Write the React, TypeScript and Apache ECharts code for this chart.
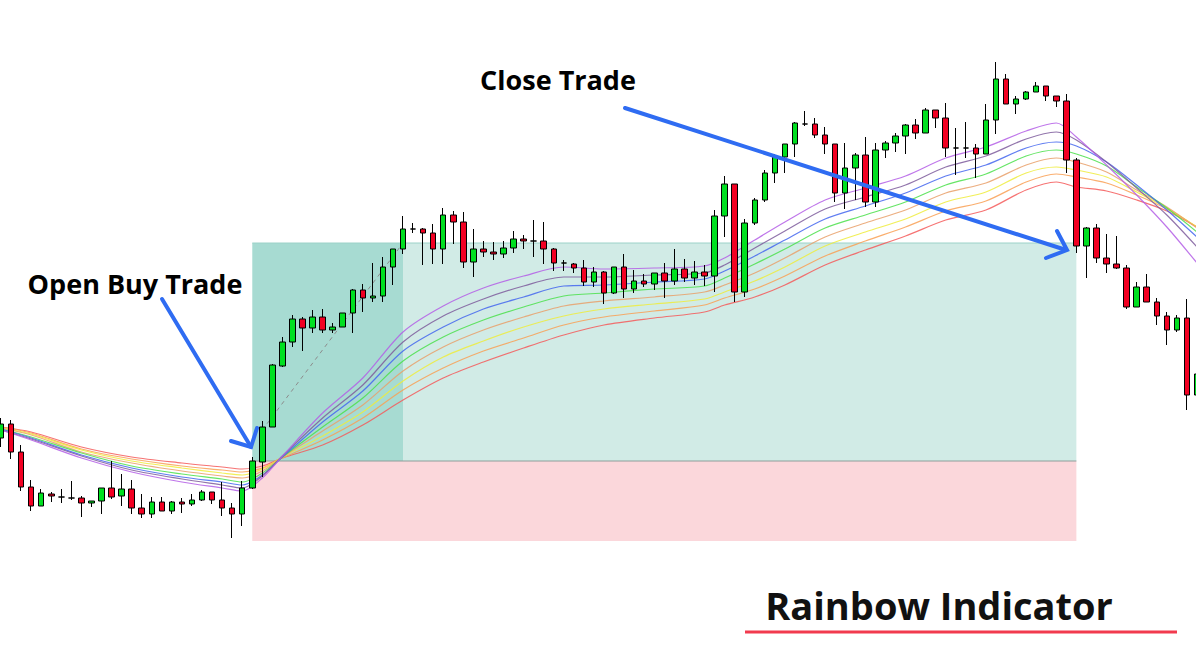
import React, { useEffect, useRef } from "react";
import * as echarts from "echarts";

// ---- candle data (price units) ----
const candleOpen = [
  233, 247, 219, 184, 165, 177, 174, 173, 173, 168,
  170, 183, 175, 182, 163, 157, 169, 160, 169, 167,
  171, 179, 171, 163, 157, 183, 209, 244, 305, 329,
  352, 343, 354, 341, 344, 358, 381, 373, 375, 404,
  422, 442, 442, 438, 422, 456, 449, 409, 422, 419,
  417, 423, 432, 430, 430, 422, 408, 407, 403, 389,
  399, 378, 404, 382, 390, 387, 398, 390, 402, 393,
  399, 395, 455, 487, 379, 448, 471, 498, 514, 527,
  547, 547, 536, 527, 478, 503, 516, 469, 521, 528,
  535, 546, 538, 561, 553, 523, 523, 523, 517, 551,
  592, 567, 572, 579, 585, 575, 570, 511, 425, 443,
  413, 407, 403, 364, 384, 369, 355, 341, 353, 276,
];
const candleClose = [
  247, 219, 184, 165, 178, 175, 174, 173, 168, 170,
  183, 174, 182, 163, 157, 169, 160, 169, 167, 171,
  179, 171, 163, 157, 183, 210, 244, 306, 329, 352,
  343, 354, 341, 344, 358, 381, 373, 375, 404, 422,
  442, 442, 438, 422, 456, 449, 409, 422, 419, 417,
  423, 432, 430, 430, 422, 408, 408, 403, 389, 399,
  378, 404, 382, 390, 387, 398, 390, 402, 393, 399,
  395, 455, 487, 379, 448, 471, 498, 514, 527, 548,
  547, 536, 527, 478, 503, 516, 469, 521, 528, 535,
  546, 538, 561, 553, 523, 523, 523, 517, 551, 592,
  567, 572, 579, 585, 575, 570, 511, 425, 443, 413,
  407, 403, 364, 384, 369, 355, 341, 353, 276, 297,
];
const candleLow = [
  224, 212, 180, 160, 165, 169, 168, 171, 154, 164,
  157, 172, 165, 157, 153, 153, 160, 157, 158, 165,
  170, 167, 155, 133, 145, 182, 194, 244, 304, 324,
  320, 338, 338, 338, 344, 338, 359, 369, 369, 386,
  417, 438, 406, 407, 407, 427, 403, 394, 414, 411,
  413, 418, 422, 414, 407, 400, 400, 398, 385, 384,
  367, 377, 373, 378, 384, 381, 373, 386, 389, 386,
  385, 379, 434, 369, 374, 446, 469, 488, 498, 514,
  545, 533, 517, 469, 462, 471, 464, 464, 513, 519,
  517, 532, 538, 543, 514, 496, 513, 493, 517, 537,
  567, 557, 571, 579, 570, 564, 498, 418, 393, 408,
  398, 402, 362, 364, 369, 346, 326, 339, 261, 270,
];
const candleHigh = [
  253, 251, 226, 191, 182, 179, 182, 190, 175, 170,
  183, 210, 197, 191, 177, 174, 174, 170, 173, 177,
  181, 179, 189, 168, 190, 214, 250, 307, 334, 356,
  354, 361, 362, 348, 358, 382, 387, 408, 414, 422,
  455, 448, 443, 447, 463, 460, 459, 442, 430, 429,
  430, 440, 436, 451, 449, 423, 411, 408, 411, 404,
  400, 404, 417, 401, 397, 398, 408, 422, 412, 410,
  406, 461, 495, 487, 452, 473, 501, 517, 527, 549,
  560, 553, 544, 527, 528, 518, 534, 528, 530, 538,
  547, 552, 563, 561, 568, 543, 549, 527, 567, 609,
  597, 575, 580, 589, 585, 575, 577, 513, 444, 447,
  437, 435, 406, 389, 397, 373, 359, 356, 372, 300,
];
const categories = candleOpen.map((_, i) => `Bar ${i + 1}`);

// ---- rainbow moving averages, read at these bar indices ----
const maIndex = [0, 3, 8, 13, 18, 22, 24, 26, 28, 32, 36, 40, 44, 48, 52, 56, 60, 65, 70, 72, 75, 78, 82, 86, 90, 94, 98, 102, 105, 107, 110, 113, 116, 119];
const maRed = [244, 239, 224, 214, 208, 204, 202, 205, 213, 226, 246, 271, 293, 309, 323, 336, 346, 353, 359, 366, 374, 386, 406, 421, 435, 451, 461, 481, 489, 484, 480, 471, 460, 444];
const maOrange2 = [244, 238, 222, 212, 205, 201, 199, 203, 213, 231, 253, 281, 303, 320, 333, 346, 354, 360, 366, 373, 382, 395, 415, 430, 444, 460, 470, 489, 497, 494, 488, 476, 462, 444];
const maYellow = [243, 237, 221, 210, 203, 198, 196, 202, 214, 235, 259, 290, 314, 330, 344, 355, 362, 367, 372, 379, 390, 404, 425, 439, 452, 469, 479, 498, 504, 501, 494, 479, 463, 444];
const maOrange1 = [243, 236, 219, 208, 200, 195, 193, 200, 214, 240, 266, 300, 324, 341, 354, 365, 370, 374, 379, 386, 398, 413, 434, 448, 461, 478, 488, 506, 513, 509, 499, 481, 464, 443];
const maGreen = [242, 234, 218, 205, 197, 192, 189, 198, 214, 244, 273, 310, 334, 351, 364, 375, 378, 382, 385, 393, 407, 422, 443, 456, 469, 486, 497, 515, 521, 517, 505, 484, 463, 439];
const maBlue = [242, 233, 216, 203, 194, 189, 186, 196, 214, 249, 280, 320, 344, 362, 374, 385, 386, 389, 392, 400, 415, 431, 452, 465, 478, 495, 506, 523, 529, 525, 509, 486, 461, 434];
const maSlate = [241, 232, 215, 201, 192, 186, 183, 195, 215, 253, 286, 329, 355, 372, 385, 394, 394, 396, 398, 406, 423, 440, 462, 474, 486, 504, 515, 532, 539, 531, 509, 483, 456, 424];
const maPurple = [241, 231, 213, 199, 189, 183, 180, 193, 215, 258, 293, 339, 365, 383, 395, 404, 402, 403, 405, 413, 431, 449, 471, 483, 495, 513, 524, 540, 548, 534, 506, 476, 444, 408];

// ---- trade annotation levels ----
const entryIdx = 25;
const targetIdx = 40;
const exitIdx = 107;
const takeProfit = 428;
const entryPrice = 210;
const stopLoss = 130;
const dashStart = [26, 241];

const rainbow = [
  { name: "MA 8", data: maRed, color: "#f45a5a" },
  { name: "MA 7", data: maOrange2, color: "#f9a055" },
  { name: "MA 6", data: maYellow, color: "#eeec3c" },
  { name: "MA 5", data: maOrange1, color: "#e9a06a" },
  { name: "MA 4", data: maGreen, color: "#4be04b" },
  { name: "MA 3", data: maBlue, color: "#4466ee" },
  { name: "MA 2", data: maSlate, color: "#7e5c9c" },
  { name: "MA 1", data: maPurple, color: "#b45ee6" },
];

export default function App() {
  const ref = useRef<HTMLDivElement>(null);
  useEffect(() => {
    if (!ref.current) return;
    document.body.style.margin = "0";
    const chart = echarts.init(ref.current, null, { renderer: "svg" });
    chart.setOption({
      animation: false,
      grid: { left: -4, right: -6, top: 0, bottom: 0, outerBoundsMode: "none" },
      xAxis: { type: "category", data: categories, show: false, boundaryGap: true },
      yAxis: { type: "value", min: 0, max: 671, show: false },
      series: [
        ...rainbow.map((r) => ({
          type: "line",
          name: r.name,
          data: maIndex.map((x, k) => [x, r.data[k]]),
          showSymbol: false,
          smooth: 0.3,
          silent: true,
          z: 2,
          lineStyle: { color: r.color, width: 1.2, opacity: 0.85 },
        })),
        {
          type: "candlestick",
          data: candleOpen.map((o, i) => [o, candleClose[i], candleLow[i], candleHigh[i]]),
          barWidth: 6,
          z: 3,
          itemStyle: {
            color: "#00e020",
            color0: "#f20022",
            borderColor: "#000",
            borderColor0: "#000",
            borderColorDoji: "#000",
            borderWidth: 1,
          },
        },
      ],
    });

    const px = (i: number, v: number) => chart.convertToPixel({ gridIndex: 0 }, [i, v]) as number[];
    const [xE, yTP] = px(entryIdx, takeProfit);
    const [xT] = px(targetIdx, takeProfit);
    const [xX, yEn] = px(exitIdx, entryPrice);
    const [, ySL] = px(exitIdx, stopLoss);
    const d0 = px(dashStart[0], dashStart[1]);
    const blue = "#2f6cf2";
    const font = "'Open Sans', 'Noto Sans', sans-serif";

    chart.setOption({
      graphic: [
        { type: "rect", z: 0, shape: { x: xE, y: yTP, width: xT - xE, height: yEn - yTP }, style: { fill: "#a7dbd2" } },
        { type: "rect", z: 0, shape: { x: xT, y: yTP, width: xX - xT, height: yEn - yTP }, style: { fill: "#d1ebe6" } },
        { type: "rect", z: 0, shape: { x: xE, y: yEn, width: xX - xE, height: ySL - yEn }, style: { fill: "#fbd7db" } },
        { type: "line", z: 1, shape: { x1: xE, y1: yTP, x2: xX, y2: yTP }, style: { stroke: "#9cd2c8", lineWidth: 1 } },
        { type: "line", z: 1, shape: { x1: xE, y1: yEn, x2: xX, y2: yEn }, style: { stroke: "#8d9e9b", lineWidth: 1 } },
        { type: "line", z: 1, shape: { x1: d0[0], y1: d0[1], x2: xT, y2: yTP }, style: { stroke: "#8c8c8c", lineWidth: 1, lineDash: [4, 4] } },
        // Open arrow
        { type: "line", z: 100, shape: { x1: 162, y1: 299, x2: 251, y2: 447 }, style: { stroke: blue, lineWidth: 4, lineCap: "round" } },
        { type: "polyline", z: 100, shape: { points: [[231, 441], [251, 447], [257, 428]] }, style: { stroke: blue, lineWidth: 4, lineCap: "round", lineJoin: "miter", fill: null } },
        // Close arrow
        { type: "line", z: 100, shape: { x1: 625, y1: 108, x2: 1066, y2: 250 }, style: { stroke: blue, lineWidth: 4, lineCap: "round" } },
        { type: "polyline", z: 100, shape: { points: [[1057, 231], [1067, 250], [1046, 258]] }, style: { stroke: blue, lineWidth: 4, lineCap: "round", lineJoin: "miter", fill: null } },
        // labels
        { type: "text", z: 100, x: 558, y: 79, style: { text: "Close Trade", fill: "#000", font: `bold 27px ${font}`, textAlign: "center", textVerticalAlign: "middle" } },
        { type: "text", z: 100, x: 135, y: 283, style: { text: "Open Buy Trade", fill: "#000", font: `bold 27px ${font}`, textAlign: "center", textVerticalAlign: "middle" } },
        { type: "text", z: 100, x: 939, y: 605, style: { text: "Rainbow Indicator", fill: "#111", font: `bold 38px ${font}`, textAlign: "center", textVerticalAlign: "middle" } },
        { type: "line", z: 100, shape: { x1: 745, y1: 632, x2: 1177, y2: 632 }, style: { stroke: "#f23a4e", lineWidth: 3 } },
      ],
    });
    return () => chart.dispose();
  }, []);
  return <div ref={ref} style={{ position: "absolute", left: 0, top: 0, width: 1196, height: 671, background: "#fff" }} />;
}
